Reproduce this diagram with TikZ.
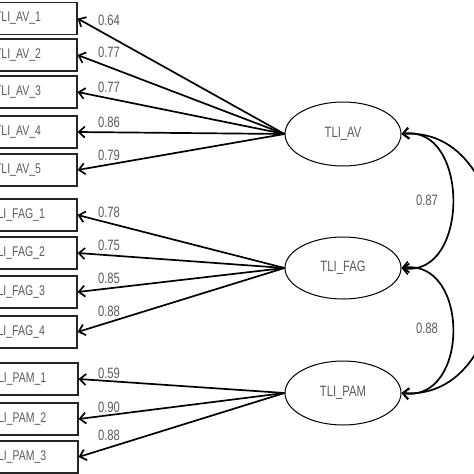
\documentclass[tikz,border=0pt]{standalone}
\usepackage{fontspec}
\setmainfont{Liberation Sans}[FakeStretch=0.75]
\usetikzlibrary{arrows.meta,shapes.geometric}
\definecolor{txtgray}{HTML}{5A5A5A}
\tikzset{
  ind/.style={draw=black!85, line width=1.1pt, minimum width=118pt, minimum height=32pt, inner sep=0pt, text=txtgray, font=\fontsize{14}{16}\selectfont},
  lat/.style={draw=black, ellipse, line width=1pt, minimum width=116pt, minimum height=64pt, inner sep=0pt, text=txtgray, font=\fontsize{15}{17}\selectfont},
  load/.style={line width=1.7pt, -{Straight Barb[length=6pt,width=11pt]}},
  cov/.style={line width=1.7pt, {Straight Barb[length=6pt,width=11pt]}-{Straight Barb[length=6pt,width=11pt]}},
  lab/.style={text=txtgray, inner sep=0pt, font=\fontsize{15}{17}\selectfont}
}
\begin{document}
\begin{tikzpicture}[x=1pt,y=-1pt]
\useasboundingbox (0,0) rectangle (474,474);
\clip (0,0) rectangle (474,474);
% indicators
\node[ind] (b1) at (18,18.5) {TLI\_AV\_1};
\node[ind] (b2) at (18,55) {TLI\_AV\_2};
\node[ind] (b3) at (18,92) {TLI\_AV\_3};
\node[ind] (b4) at (18,132) {TLI\_AV\_4};
\node[ind] (b5) at (18,170) {TLI\_AV\_5};
\node[ind] (f1) at (18,215) {TLI\_FAG\_1};
\node[ind] (f2) at (18,253) {TLI\_FAG\_2};
\node[ind] (f3) at (18,292) {TLI\_FAG\_3};
\node[ind] (f4) at (18,332) {TLI\_FAG\_4};
\node[ind] (p1) at (19,379) {TLI\_PAM\_1};
\node[ind] (p2) at (19,419) {TLI\_PAM\_2};
\node[ind] (p3) at (19,457) {TLI\_PAM\_3};
% latent
\node[lat] (av) at (343,134) {TLI\_AV};
\node[lat, minimum height=62pt] (fag) at (343,268) {TLI\_FAG};
\node[lat] (pam) at (343,393) {TLI\_PAM};
% loadings
\foreach \b in {b1,b2,b3,b4,b5} \draw[load] (av.west) -- (\b.east);
\foreach \b in {f1,f2,f3,f4} \draw[load] (fag.west) -- (\b.east);
\foreach \b in {p1,p2,p3} \draw[load] (pam.west) -- (\b.east);
% loading labels
\node[lab] (l1) at (109,20.5) {0.64};
\node[lab] (l2) at (109,52.5) {0.77};
\node[lab] (l3) at (109,87) {0.77};
\node[lab] (l4) at (109,122) {0.86};
\node[lab] (l5) at (109,155) {0.79};
\node[lab] (l6) at (109,212) {0.78};
\node[lab] (l7) at (109,245) {0.75};
\node[lab] (l8) at (109,278.5) {0.85};
\node[lab] (l9) at (109,311.5) {0.88};
\node[lab] (l10) at (109,373) {0.59};
\node[lab] (l11) at (109,407) {0.90};
\node[lab] (l12) at (109,435.5) {0.88};
% covariances
\draw[cov] (av.east) .. controls (470,124) and (470,278) .. (fag.east);
\draw[cov] (fag.east) .. controls (470,258) and (470,403) .. (pam.east);
\draw[cov] (av.east) .. controls (530,125) and (530,402) .. (pam.east);
\node[lab] (c1) at (427,200) {0.87};
\node[lab] (c2) at (427,328) {0.88};
\end{tikzpicture}
\end{document}
